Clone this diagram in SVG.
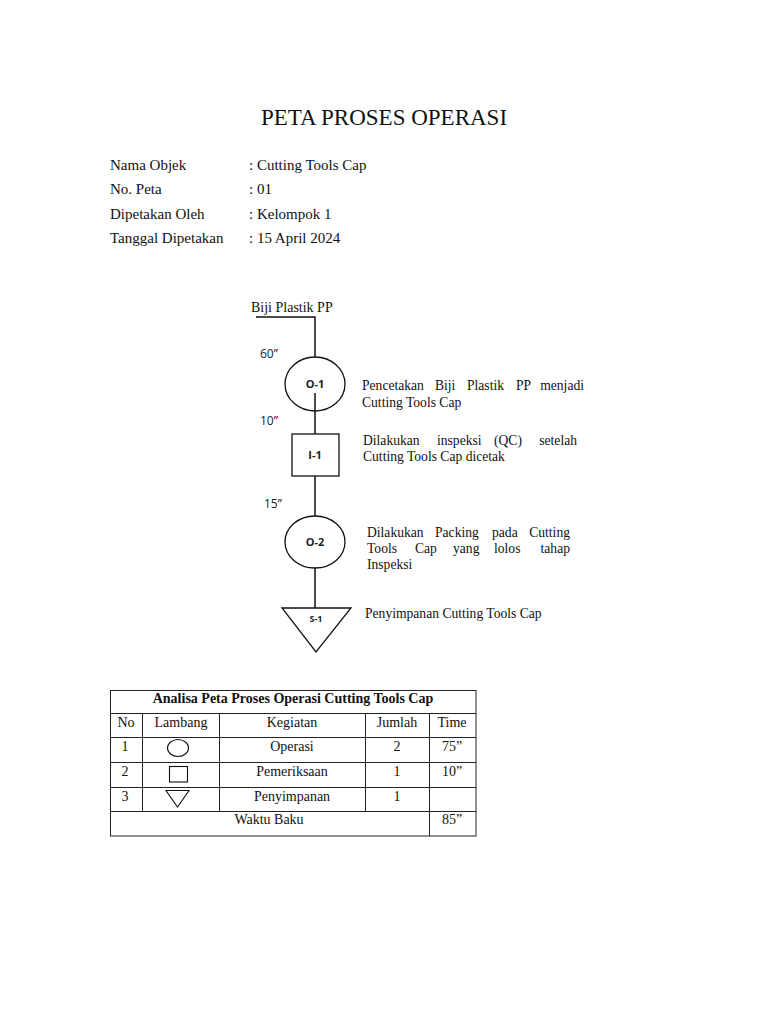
<svg xmlns="http://www.w3.org/2000/svg" width="768" height="1024" viewBox="0 0 768 1024">
<style>
.s{font-family:"Liberation Serif","Times New Roman",serif;fill:#111}
.f{font-size:15px}
.t{font-size:14px}
.d{font-size:13.6px}
.m{text-anchor:middle}
.e{text-anchor:end}
.sans{font-family:"Open Sans","Noto Sans","DejaVu Sans",sans-serif;fill:#222}
.lbl{font-size:11px;font-weight:bold;text-anchor:middle}
.tm{font-size:12px}
.ln{stroke:#111;stroke-width:1.5;fill:none}
.sh{stroke:#111;stroke-width:1.3;fill:#fff}
.tb{stroke:#222;stroke-width:1;fill:none}
</style>
<rect width="768" height="1024" fill="#fff"/>

<g id="header">
<text class="s m" x="384" y="125" font-size="23">PETA PROSES OPERASI</text>
<text class="s f" x="110" y="170">Nama Objek</text>
<text class="s f" x="249" y="170">: Cutting Tools Cap</text>
<text class="s f" x="110" y="194">No. Peta</text>
<text class="s f" x="249" y="194">: 01</text>
<text class="s f" x="110" y="219">Dipetakan Oleh</text>
<text class="s f" x="249" y="219">: Kelompok 1</text>
<text class="s f" x="110" y="243">Tanggal Dipetakan</text>
<text class="s f" x="249" y="243">: 15 April 2024</text>
</g>

<g id="connectors">
<polyline class="ln" points="256,317 315,317 315,358"/>
<line class="ln" x1="315" y1="393" x2="315" y2="434"/>
<line class="ln" x1="315" y1="476" x2="315" y2="516"/>
<line class="ln" x1="315" y1="568" x2="315" y2="608"/>
</g>

<g id="input">
<text class="s t" x="251" y="312">Biji Plastik PP</text>
</g>

<g id="times">
<text class="sans tm" x="260" y="358">60”</text>
<text class="sans tm" x="260" y="425">10”</text>
<text class="sans tm" x="264" y="508">15”</text>
</g>

<g id="O-1">
<ellipse class="sh" cx="315" cy="384" rx="30" ry="27"/>
<line class="ln" x1="315" y1="393" x2="315" y2="411"/>
<text class="sans lbl" x="315" y="388">O-1</text>
<text class="s d" x="362" y="390">Pencetakan</text>
<text class="s d" x="435" y="390">Biji</text>
<text class="s d" x="467" y="390">Plastik</text>
<text class="s d" x="516" y="390">PP</text>
<text class="s d e" x="584" y="390">menjadi</text>
<text class="s d" x="362" y="407">Cutting Tools Cap</text>
</g>

<g id="I-1">
<rect class="sh" x="292" y="434" width="47" height="42"/>
<text class="sans lbl" x="315" y="459">I-1</text>
<text class="s d" x="363" y="445">Dilakukan</text>
<text class="s d" x="437" y="445">inspeksi</text>
<text class="s d" x="494" y="445">(QC)</text>
<text class="s d e" x="577" y="445">setelah</text>
<text class="s d" x="363" y="461">Cutting Tools Cap dicetak</text>
</g>

<g id="O-2">
<ellipse class="sh" cx="315" cy="542" rx="30" ry="26"/>
<text class="sans lbl" x="315" y="546">O-2</text>
<text class="s d" x="367" y="537">Dilakukan</text>
<text class="s d" x="435" y="537">Packing</text>
<text class="s d" x="492" y="537">pada</text>
<text class="s d e" x="570" y="537">Cutting</text>
<text class="s d" x="367" y="553">Tools</text>
<text class="s d" x="415" y="553">Cap</text>
<text class="s d" x="453" y="553">yang</text>
<text class="s d" x="494" y="553">lolos</text>
<text class="s d e" x="570" y="553">tahap</text>
<text class="s d" x="367" y="569">Inspeksi</text>
</g>

<g id="S-1">
<polygon class="sh" points="282,608 351,608 316,652"/>
<text class="sans m" x="316" y="622" font-size="9" font-weight="bold">S-1</text>
<text class="s d" x="365" y="618">Penyimpanan Cutting Tools Cap</text>
</g>

<g id="table">
<rect class="tb" x="110.5" y="690.5" width="365.5" height="145.5"/>
<line class="tb" x1="110" y1="713.5" x2="476" y2="713.5"/>
<line class="tb" x1="110" y1="737.5" x2="476" y2="737.5"/>
<line class="tb" x1="110" y1="762.5" x2="476" y2="762.5"/>
<line class="tb" x1="110" y1="787.5" x2="476" y2="787.5"/>
<line class="tb" x1="110" y1="811.5" x2="476" y2="811.5"/>
<line class="tb" x1="142.5" y1="713" x2="142.5" y2="812"/>
<line class="tb" x1="219.5" y1="713" x2="219.5" y2="812"/>
<line class="tb" x1="365.5" y1="713" x2="365.5" y2="812"/>
<line class="tb" x1="429.5" y1="713" x2="429.5" y2="836"/>
<text class="s t m" x="293" y="703" font-weight="bold">Analisa Peta Proses Operasi Cutting Tools Cap</text>
<text class="s t m" x="126" y="727">No</text>
<text class="s t m" x="181" y="727">Lambang</text>
<text class="s t m" x="292" y="727">Kegiatan</text>
<text class="s t m" x="397" y="727">Jumlah</text>
<text class="s t m" x="452" y="727">Time</text>
<text class="s t m" x="125" y="751">1</text>
<ellipse cx="178" cy="748" rx="10.5" ry="8.5" fill="none" stroke="#111" stroke-width="1.1"/>
<text class="s t m" x="292" y="751">Operasi</text>
<text class="s t m" x="397" y="751">2</text>
<text class="s t m" x="452" y="751">75”</text>
<text class="s t m" x="125" y="776">2</text>
<rect x="169.5" y="766.5" width="18" height="15.5" fill="none" stroke="#111" stroke-width="1.1"/>
<text class="s t m" x="292" y="776">Pemeriksaan</text>
<text class="s t m" x="397" y="776">1</text>
<text class="s t m" x="452" y="776">10”</text>
<text class="s t m" x="125" y="801">3</text>
<polygon points="166,790.5 189,790.5 177.5,807" fill="none" stroke="#111" stroke-width="1.1"/>
<text class="s t m" x="292" y="801">Penyimpanan</text>
<text class="s t m" x="397" y="801">1</text>
<text class="s t m" x="269" y="824">Waktu Baku</text>
<text class="s t m" x="452" y="824">85”</text>
</g>
</svg>
